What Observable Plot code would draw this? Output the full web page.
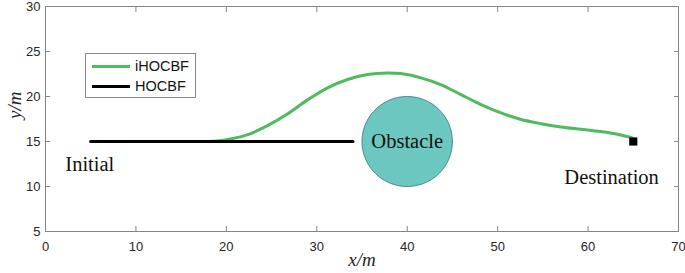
<!DOCTYPE html>
<html>
<head>
<meta charset="utf-8">
<script src="https://cdn.jsdelivr.net/npm/d3@7"></script>
<script src="https://cdn.jsdelivr.net/npm/@observablehq/plot@0.6"></script>
<style>
  html, body { margin: 0; padding: 0; background: #fff; }
  #wrap { position: relative; width: 685px; height: 273px; }
  #legend {
    position: absolute; left: 85px; top: 53px; width: 109px; height: 43px;
    border: 1px solid #8a8a8a; background: #fff;
    font-family: "Liberation Sans", Arial, sans-serif; font-size: 14.5px; color: #111;
  }
  .row { position: absolute; left: 6px; height: 18px; display: flex; align-items: center; }
  .row .sw { width: 38px; height: 3px; margin-right: 5px; }
</style>
</head>
<body>
<div id="wrap"></div>
<script>
// ---- data ----
const xTicks = [0, 10, 20, 30, 40, 50, 60, 70];
const yTicks = [5, 10, 15, 20, 25, 30];

const ihocbfX = [5, 10, 15, 17, 18.5, 19.7, 22.3, 24.5, 26.7, 28.9, 31.2, 33.4, 35.6, 37.8, 39.3, 41.5, 43.7, 45.9, 48.1, 50.3, 52.5, 54.8, 57.0, 59.2, 61.4, 63.6, 64.5, 65];
const ihocbfY = [15, 15, 15, 15, 15.03, 15.14, 15.73, 16.73, 18.02, 19.57, 20.96, 21.89, 22.44, 22.62, 22.55, 22.07, 21.33, 20.23, 19.13, 18.2, 17.47, 16.98, 16.62, 16.36, 16.1, 15.73, 15.51, 15.35];

const hocbfX = [5, 34];
const hocbfY = [15, 15];

const obstacleCenter = [40, 15];
const obstacleRadius = 5;

const destination = [65, 15];

const labelText = ["Initial", "Obstacle", "Destination"];
const labelX = [4.9, 40, 62.6];
const labelY = [12.4, 15, 11];

const seriesNames = ["iHOCBF", "HOCBF"];
const seriesColors = ["#4fbb5c", "#000000"];

// ---- build tables ----
const ihocbf = ihocbfX.map((x, i) => ({x, y: ihocbfY[i]}));
const hocbf = hocbfX.map((x, i) => ({x, y: hocbfY[i]}));
const circle = d3.range(0, 361, 3).map(a => ({
  x: obstacleCenter[0] + obstacleRadius * Math.cos(a * Math.PI / 180),
  y: obstacleCenter[1] + obstacleRadius * Math.sin(a * Math.PI / 180)
}));
const labels = labelText.map((t, i) => ({t, x: labelX[i], y: labelY[i]}));

const axisColor = "#858585";
const serif = "'Liberation Serif', 'Times New Roman', serif";

const chart = Plot.plot({
  width: 685,
  height: 273,
  marginTop: 6,
  marginRight: 7,
  marginBottom: 42,
  marginLeft: 45,
  style: {fontFamily: "'Liberation Sans', Arial, sans-serif", fontSize: "13px", color: "#262626", background: "#fff"},
  x: {domain: [0, 70]},
  y: {domain: [5, 30]},
  marks: [
    Plot.line(circle, {x: "x", y: "y", fill: "#6dc7c1", stroke: "#2f7773", strokeWidth: 0.8}),
    Plot.line(ihocbf, {x: "x", y: "y", stroke: seriesColors[0], strokeWidth: 3, curve: "catmull-rom"}),
    Plot.line(hocbf, {x: "x", y: "y", stroke: seriesColors[1], strokeWidth: 3}),
    Plot.dot([destination], {x: d => d[0], y: d => d[1], symbol: "square", r: 4.6, fill: "#000", stroke: "none"}),
    Plot.text(labels, {x: "x", y: "y", text: "t", fontFamily: serif, fontSize: 20.5, fill: "#111"}),
    Plot.frame({stroke: axisColor}),
    Plot.axisX(xTicks, {anchor: "bottom", tickSize: 0, tickPadding: 10, label: null, fill: "#262626"}),
    Plot.axisX(xTicks, {anchor: "bottom", tickSize: -5, tickFormat: () => "", label: null, stroke: axisColor}),
    Plot.axisX(xTicks, {anchor: "top", tickSize: -5, tickFormat: () => "", label: null, stroke: axisColor}),
    Plot.axisY(yTicks, {anchor: "left", tickSize: 0, tickPadding: 5, label: null, fill: "#262626"}),
    Plot.axisY(yTicks, {anchor: "left", tickSize: -5, tickFormat: () => "", label: null, stroke: axisColor}),
    Plot.axisY(yTicks, {anchor: "right", tickSize: -5, tickFormat: () => "", label: null, stroke: axisColor}),
    Plot.text(["x/m"], {frameAnchor: "bottom", dy: 34, fontFamily: serif, fontStyle: "italic", fontSize: 19, fill: "#262626"}),
    Plot.text(["y/m"], {frameAnchor: "left", dx: -31, rotate: -90, fontFamily: serif, fontStyle: "italic", fontSize: 19, fill: "#262626"})
  ]
});

const wrap = document.getElementById("wrap");
wrap.appendChild(chart);

const legend = document.createElement("div");
legend.id = "legend";
seriesNames.forEach((name, i) => {
  const row = document.createElement("div");
  row.className = "row";
  row.style.top = (3 + i * 20) + "px";
  const sw = document.createElement("span");
  sw.className = "sw";
  sw.style.background = seriesColors[i];
  const tx = document.createElement("span");
  tx.textContent = name;
  row.appendChild(sw);
  row.appendChild(tx);
  legend.appendChild(row);
});
wrap.appendChild(legend);
</script>
</body>
</html>
